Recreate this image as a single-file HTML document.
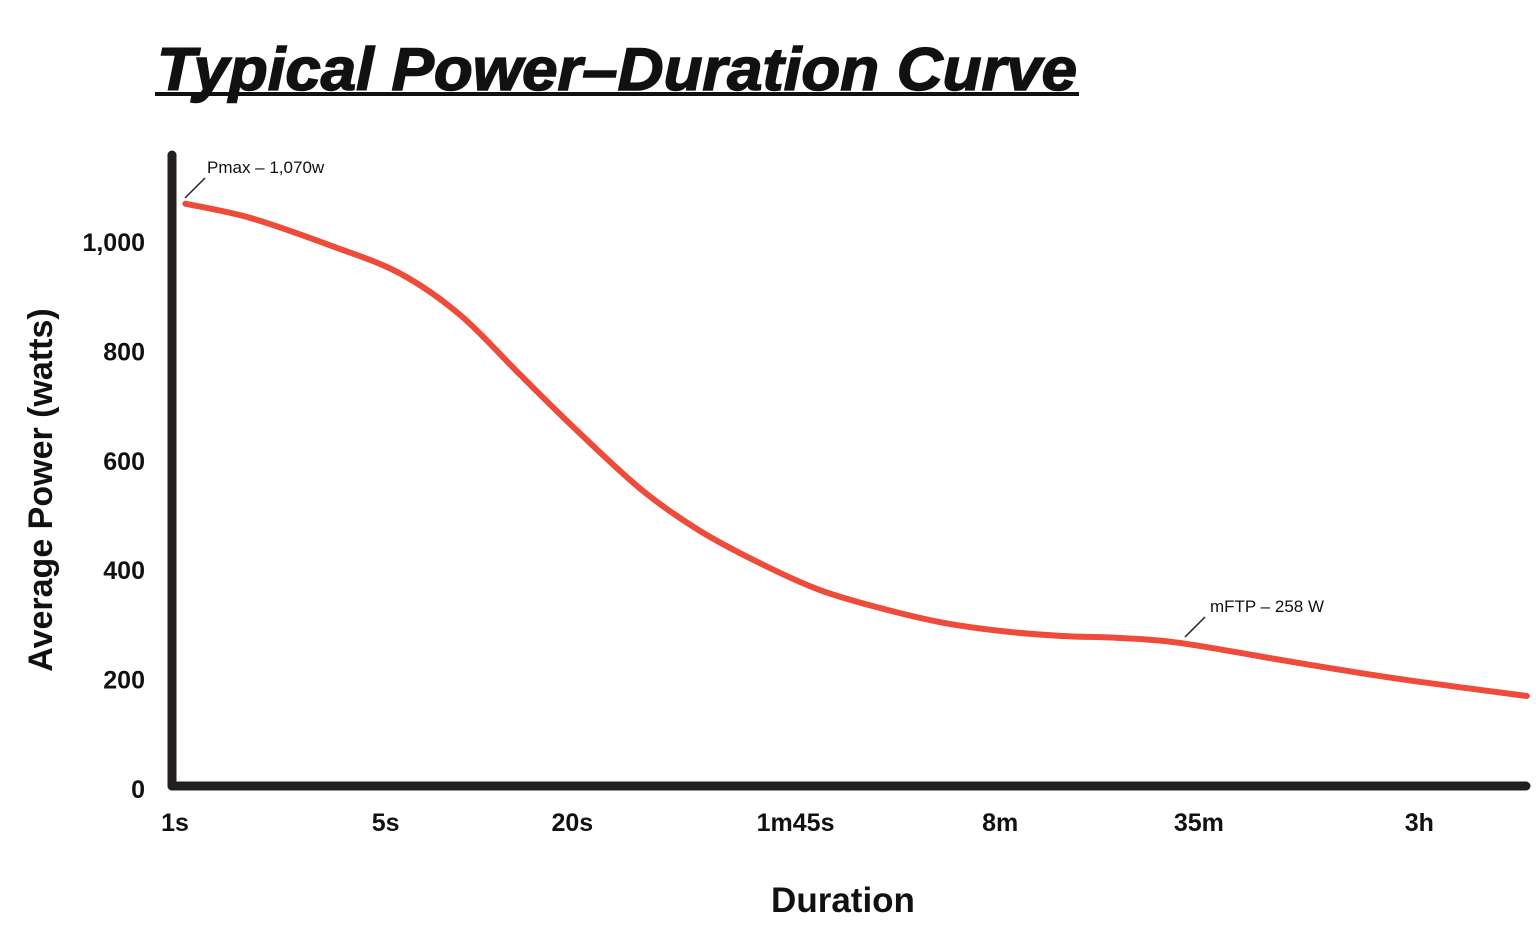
<!DOCTYPE html>
<html><head><meta charset="utf-8"><style>
html,body{margin:0;padding:0;background:#fff;}
svg{display:block;font-family:"Liberation Sans",sans-serif;}
</style></head><body>
<svg id="chart" width="1536" height="929" viewBox="0 0 1536 929">
<text x="157" y="90" font-size="60" font-weight="bold" font-style="italic" fill="#111" stroke="#111" stroke-width="1.5" textLength="920" lengthAdjust="spacingAndGlyphs">Typical Power–Duration Curve</text>
<rect x="155" y="92" width="924" height="4" fill="#111"/>
<g id="yticks"></g><g id="xticks"></g>
<line x1="172" y1="155" x2="172" y2="786" stroke="#231f20" stroke-width="9" stroke-linecap="round"/>
<line x1="172" y1="786" x2="1526" y2="786" stroke="#231f20" stroke-width="9" stroke-linecap="round"/>
<path id="curve" fill="none" stroke="#ee4b3b" stroke-width="6" stroke-linecap="round"/>
<line x1="185" y1="198" x2="205" y2="178" stroke="#222" stroke-width="1.5"/>
<text x="207" y="173" font-size="17" fill="#111">Pmax – 1,070w</text>
<line x1="1185" y1="637" x2="1205" y2="617" stroke="#222" stroke-width="1.5"/>
<text x="1210" y="612" font-size="17" fill="#111">mFTP – 258 W</text>
<text transform="translate(52,490) rotate(-90)" text-anchor="middle" font-size="34" font-weight="bold" fill="#111">Average Power (watts)</text>
<text x="843" y="912" text-anchor="middle" font-size="35" font-weight="bold" fill="#111">Duration</text>
</svg>
<script>
const yTicks=[0,200,400,600,800,1000];
const yTickLabels=["0","200","400","600","800","1,000"];
const xTickSeconds=[1,5,20,105,480,2100,10800];
const xTickLabels=["1s","5s","20s","1m45s","8m","35m","3h"];
const durations=[1.08,1.75,3.16,5.3,8.3,13,20,32,49,77,120,188,294,459,716,1117,1746,4256,8954,22970];
const powers=[1070,1044,994,943,867,757,653,547,473,413,364,331,305,289,280,276,267,230,201,170];
const X=t=>175+310*Math.log10(t);
const Y=p=>789-0.547*p;
const NS="http://www.w3.org/2000/svg";
const yg=document.getElementById('yticks'),xg=document.getElementById('xticks');
yTicks.forEach((v,i)=>{const t=document.createElementNS(NS,'text');
t.setAttribute('x',145);t.setAttribute('y',Y(v)+9);t.setAttribute('text-anchor','end');
t.setAttribute('font-size','25');t.setAttribute('font-weight','bold');t.setAttribute('fill','#111');
t.textContent=yTickLabels[i];


yg.appendChild(t);});
xTickSeconds.forEach((v,i)=>{const t=document.createElementNS(NS,'text');
t.setAttribute('x',i===0?X(v):X(v)-6);t.setAttribute('y',831);t.setAttribute('text-anchor','middle');
t.setAttribute('font-size','25');t.setAttribute('font-weight','bold');t.setAttribute('fill','#111');
t.textContent=xTickLabels[i];


xg.appendChild(t);});
const pts=durations.map((d,i)=>[X(d),Y(powers[i])]);
let d='M'+pts[0][0]+','+pts[0][1];
for(let i=0;i<pts.length-1;i++){const p0=pts[Math.max(0,i-1)],p1=pts[i],p2=pts[i+1],p3=pts[Math.min(pts.length-1,i+2)];
d+=` C${p1[0]+(p2[0]-p0[0])/6},${p1[1]+(p2[1]-p0[1])/6} ${p2[0]-(p3[0]-p1[0])/6},${p2[1]-(p3[1]-p1[1])/6} ${p2[0]},${p2[1]}`;}
document.getElementById('curve').setAttribute('d',d);
</script>
</body></html>
